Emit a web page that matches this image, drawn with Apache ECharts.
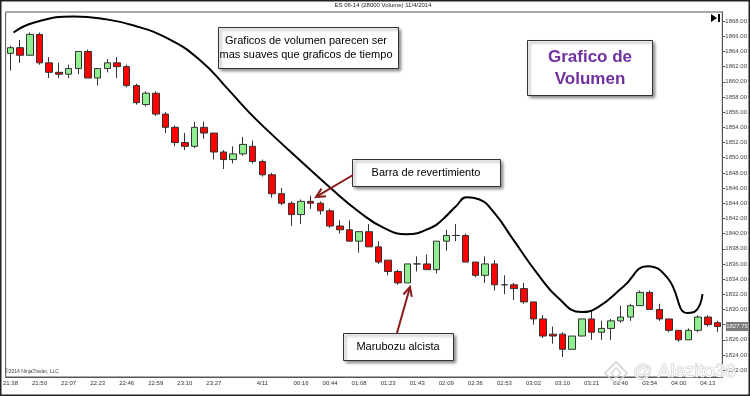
<!DOCTYPE html>
<html><head><meta charset="utf-8">
<script src="https://cdn.jsdelivr.net/npm/echarts@6/dist/echarts.min.js"></script>
<style>html,body{margin:0;padding:0;background:#fff}#c{width:750px;height:396px}</style>
</head><body><div id="c"></div>
<script>
// ---- data ----
const categories = [
 '21:38','','', '21:50','','', '22:07','','', '22:23','','', '22:46','','',
 '22:59','','', '23:10','','', '23:27','','', '','','4/11', '','','',
 '00:16','','', '00:44','','', '01:08','','', '01:23','','', '01:43','','',
 '02:09','','', '02:36','','', '02:53','','', '03:02','','', '03:10','','',
 '03:21','','', '03:40','','', '03:54','','', '04:00','','', '04:13',''
];
const opens = [1863.75,1864.5,1863.5,1866.25,1862.5,1861.25,1861.0,1861.75,1864.0,1860.5,
 1861.75,1862.5,1862.0,1859.5,1857.0,1858.5,1855.75,1854.0,1852.0,1851.5,
 1854.0,1853.25,1850.75,1849.75,1850.5,1851.5,1849.5,1847.75,1845.25,1844.0,
 1842.5,1844.25,1844.0,1843.0,1841.0,1840.5,1839.0,1840.25,1838.25,1836.5,
 1835.0,1833.5,1836.0,1836.0,1835.25,1839.0,1839.75,1839.75,1836.25,1834.5,
 1836.0,1833.25,1833.25,1832.75,1831.0,1828.75,1826.75,1826.75,1824.75,1826.5,
 1828.75,1827.0,1827.5,1828.5,1829.0,1830.5,1832.25,1830.0,1828.75,1827.25,
 1826.0,1827.25,1829.0,1828.25];
const highs = [1864.75,1865.5,1866.5,1866.5,1863.25,1862.5,1862.25,1864.0,1864.25,1861.75,
 1863.0,1863.25,1862.25,1859.75,1858.75,1858.75,1856.0,1854.25,1853.25,1854.75,
 1854.75,1853.25,1851.0,1851.5,1852.75,1852.25,1849.75,1848.0,1846.0,1844.25,
 1844.5,1845.0,1844.25,1843.25,1841.75,1841.75,1840.25,1841.25,1839.0,1836.5,
 1835.25,1836.0,1837.0,1837.25,1839.0,1840.5,1841.25,1840.0,1836.25,1837.0,
 1836.5,1834.5,1833.5,1833.5,1831.0,1829.25,1827.75,1827.0,1826.5,1828.75,
 1829.75,1828.5,1828.75,1830.5,1830.75,1832.5,1832.5,1830.75,1828.75,1827.25,
 1827.5,1829.25,1829.25,1828.5];
const lows = [1861.5,1862.5,1863.5,1862.25,1860.5,1860.5,1860.5,1861.0,1860.5,1859.5,
 1861.25,1860.5,1859.25,1857.0,1856.75,1855.5,1853.25,1851.5,1851.0,1851.25,
 1852.5,1849.75,1848.5,1849.25,1850.25,1849.25,1847.5,1844.75,1843.75,1841.0,
 1841.25,1843.25,1842.5,1840.75,1840.0,1839.0,1837.5,1838.25,1836.0,1834.5,
 1833.25,1833.5,1835.0,1835.25,1834.75,1837.75,1839.0,1836.25,1834.25,1833.5,
 1832.5,1832.0,1831.25,1830.75,1828.0,1826.25,1825.5,1823.75,1824.75,1826.5,
 1826.0,1826.0,1826.0,1828.25,1828.5,1830.5,1830.0,1828.5,1827.0,1825.75,
 1826.0,1827.0,1827.75,1827.0];
const closes = [1864.5,1863.5,1866.25,1862.5,1861.25,1861.0,1861.75,1864.0,1860.5,1861.75,
 1862.5,1862.0,1859.5,1857.25,1858.5,1855.75,1854.0,1852.0,1851.5,1854.0,
 1853.25,1850.75,1849.75,1850.5,1851.75,1849.5,1847.75,1845.25,1844.0,1842.5,
 1844.25,1844.0,1843.0,1841.0,1840.5,1839.0,1840.25,1838.25,1836.25,1835.0,
 1833.5,1836.0,1836.0,1835.25,1839.0,1839.75,1839.75,1836.25,1834.5,1836.0,
 1833.25,1833.25,1832.75,1831.0,1828.75,1826.5,1826.5,1824.75,1826.5,1828.75,
 1827.0,1827.5,1828.5,1829.0,1830.5,1832.25,1830.0,1828.75,1827.25,1826.0,
 1827.25,1829.0,1828.0,1827.75];
// hand-drawn cycle curve (x in bar-index units, y in price)
const curveX = [0.31,2.46,6.57,9.34,12.73,16.22,19.61,22.38,24.74,27.31,29.88,32.96,36.04,38.6,40.86,
 43.53,44.76,46.0,47.13,48.36,49.9,51.95,54.52,56.57,58.93,60.68,63.24,65.81,67.86,69.92,70.74,71.46];
const curveY = [1866.5,1867.82,1868.61,1868.34,1867.42,1865.71,1862.82,1859.13,1855.84,1852.68,1849.66,1846.11,1842.82,1840.71,1839.92,
 1840.84,1842.03,1843.61,1844.79,1844.53,1842.82,1839.13,1834.53,1831.5,1829.66,1830.32,1832.95,1835.71,1834.13,1829.53,1829.79,1832.03];
const yMin = 1821.1, yMax = 1869.2, yStep = 2;
const lastPrice = closes[closes.length - 1];

// ---- chart ----
const FONT = '"Liberation Sans", Arial, sans-serif';
const chart = echarts.init(document.getElementById('c'), null, {renderer: 'canvas'});
const candleData = opens.map((o, i) => [o, closes[i], lows[i], highs[i]]);

function box(x, y, w, h) {
  return {type: 'rect', shape: {x: x, y: y, width: w, height: h}, z: 50,
    style: {fill: '#fff', stroke: '#333', lineWidth: 1, shadowBlur: 3, shadowOffsetX: 2, shadowOffsetY: 2, shadowColor: 'rgba(0,0,0,0.45)'}};
}
function txt(t, x, y, font, fill, align, z) {
  return {type: 'text', z: z || 60, style: {text: t, x: x, y: y, font: font, fill: fill || '#000',
    textAlign: align || 'center', align: align || 'center', textVerticalAlign: 'middle', verticalAlign: 'middle'}};
}
function arrow(x1, y1, x2, y2, color) {
  const a = Math.atan2(y2 - y1, x2 - x1), L = 10, s = 0.45;
  const p1 = [x2 - L * Math.cos(a - s), y2 - L * Math.sin(a - s)];
  const p2 = [x2 - L * Math.cos(a + s), y2 - L * Math.sin(a + s)];
  return [
    {type: 'line', z: 55, shape: {x1: x1, y1: y1, x2: x2 - 2 * Math.cos(a), y2: y2 - 2 * Math.sin(a)}, style: {stroke: color, lineWidth: 2}},
    {type: 'polyline', z: 55, shape: {points: [p1, [x2, y2], p2]}, style: {stroke: color, lineWidth: 2, fill: 'none'}}
  ];
}
const AR = '#8B1A1A';

const graphics = [
    {type: 'rect', shape: {x: 0.75, y: 0.75, width: 748.5, height: 394.5}, style: {fill: 'none', stroke: '#222', lineWidth: 1.5}, z: 100},
    txt('ES 06-14 (28000 Volume) 11/4/2014', 383, 5.5, '6px ' + FONT, '#222'),
    txt('©2014 NinjaTrader, LLC', 5, 372, '5px ' + FONT, '#444', 'left'),
    {type: 'polygon', shape: {points: [[711, 14], [717, 18], [711, 22]]}, style: {fill: '#000'}, z: 60},
    {type: 'rect', shape: {x: 718, y: 14, width: 2, height: 8}, style: {fill: '#000'}, z: 60},
    box(218.5, 27.5, 180, 41),
    txt('Graficos de volumen parecen ser', 306, 41, '11px ' + FONT),
    txt('mas suaves que graficos de tiempo', 306, 55, '11px ' + FONT),
    box(527.5, 40.5, 125, 55),
    txt('Grafico de', 590, 57, 'bold 17px ' + FONT, '#7030A0'),
    txt('Volumen', 590, 79, 'bold 17px ' + FONT, '#7030A0'),
    box(352.5, 159.5, 148, 27),
    txt('Barra de revertimiento', 426, 173, '11px ' + FONT),
    box(343.5, 333.5, 110, 27),
    txt('Marubozu alcista', 398, 347, '11px ' + FONT),
    ...arrow(353, 175, 316, 197, AR),
    ...arrow(397, 333, 410, 287, AR),
    {type: 'text', z: 90, style: {text: '@ Alezito38', x: 633, y: 372, font: '19px ' + FONT, fill: 'rgba(255,255,255,0.85)', stroke: '#c6c6c6', lineWidth: 1,
      textAlign: 'left', align: 'left', textVerticalAlign: 'middle', verticalAlign: 'middle'}},
    {type: 'polygon', z: 90, shape: {points: [[616, 362], [627, 373], [616, 384], [605, 373]]}, style: {fill: 'none', stroke: '#d0d0d0', lineWidth: 1.5}},
    {type: 'polygon', z: 90, shape: {points: [[616, 368], [621, 373], [616, 378], [611, 373]]}, style: {fill: 'none', stroke: '#d0d0d0', lineWidth: 1.2}}
];

const option = {
  animation: false,
  backgroundColor: '#fff',
  grid: {left: 4, right: 25, top: 12, bottom: 19, show: true, borderColor: '#555', borderWidth: 1},
  xAxis: [{
    type: 'category', data: categories, boundaryGap: true,
    axisLine: {onZero: false, lineStyle: {color: '#555'}},
    axisTick: {alignWithLabel: true, length: 3, interval: function (i) { return i % 3 === 0; }, lineStyle: {color: '#555'}},
    axisLabel: {interval: function (i, v) { return v !== ''; }, fontSize: 6, color: '#333', fontFamily: FONT, margin: 3, hideOverlap: false},
    splitLine: {show: false}
  }, {
    type: 'value', min: -0.5, max: categories.length - 0.5, show: false, position: 'top'
  }],
  yAxis: {
    type: 'value', position: 'right', min: yMin, max: yMax, splitNumber: 24, minInterval: yStep, maxInterval: yStep, scale: true,
    axisLine: {show: true, onZero: false, lineStyle: {color: '#555'}},
    axisTick: {show: true, length: 3, lineStyle: {color: '#555'}},
    axisLabel: {fontSize: 6, color: '#444', fontFamily: FONT, margin: 3, showMinLabel: false, showMaxLabel: false,
      formatter: function (v) { return v.toFixed(2); }},
    splitLine: {show: false}
  },
  series: [{
    type: 'candlestick', data: candleData, barWidth: 7, xAxisIndex: 0,
    itemStyle: {color: '#90EE90', color0: '#FF0000', borderColor: '#333', borderColor0: '#333', borderWidth: 1}
  }, {
    type: 'line', xAxisIndex: 1, data: curveX.map((x, i) => [x, curveY[i]]), smooth: 0.5,
    symbol: 'none', lineStyle: {color: '#000', width: 2}, z: 5
  }],
  graphic: graphics
};
chart.setOption(option);

// last-price marker on the price axis, placed through the y scale
const py = chart.convertToPixel({yAxisIndex: 0}, lastPrice);
graphics.push(
  {type: 'rect', z: 70, shape: {x: 726, y: py - 4.5, width: 22, height: 9}, style: {fill: '#7a7a7a'}},
  txt(lastPrice.toFixed(2), 737, py, '6px ' + FONT, '#f4f4f4', 'center', 75)
);
chart.setOption({graphic: graphics}, {replaceMerge: ['graphic']});
</script>
</body></html>
